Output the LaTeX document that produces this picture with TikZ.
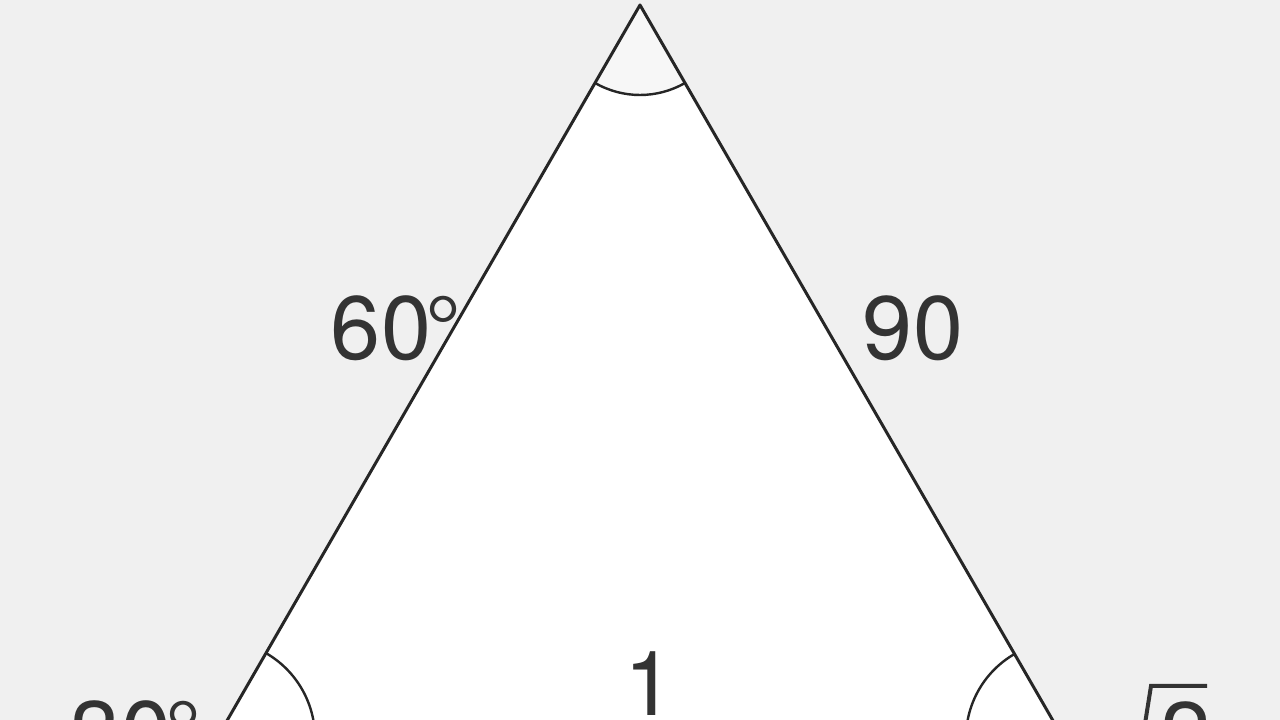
\documentclass[tikz,border=0pt]{standalone}
\usepackage{fontspec}
\setmainfont{TeX Gyre Heros}
\definecolor{bgcol}{HTML}{F0F0F0}
\definecolor{edgecol}{HTML}{262626}
\definecolor{textcol}{HTML}{333333}
\definecolor{sectorcol}{HTML}{F7F7F7}
\begin{document}
\begin{tikzpicture}[x=1pt,y=1pt,
        side/.style={line width=3pt,edgecol,line join=round},
        anglearc/.style={line width=2.4pt,edgecol},
        lbl/.style={textcol,inner sep=0pt,anchor=base,font=\fontsize{90}{100}\selectfont}]
    \useasboundingbox (0,0) rectangle (1280,720);
    \fill[bgcol] (0,0) rectangle (1280,720); % background
    \coordinate (top) at (640,715);
    \coordinate (bl) at (217,-18);
    \coordinate (br) at (1063,-18);
    \fill[white] (top)--(bl)--(br)--cycle; % triangle
    \fill[sectorcol] (top)--++(240:90) arc[start angle=240,end angle=300,radius=90]--cycle;
    \draw[anglearc] ([shift={(240:90)}]top) arc[start angle=240,end angle=300,radius=90];
    \draw[anglearc] ([shift={(0:98)}]bl) arc[start angle=0,end angle=60,radius=98];
    \draw[anglearc] ([shift={(120:97)}]br) arc[start angle=120,end angle=180,radius=97];
    \draw[side] (bl)--(top)--(br); % sides
    \node[lbl] (a60) at (396,360) {60\kern-6pt°};
    \node[lbl] (s90) at (913,360) {90};
    \node[lbl] (s1) at (650,4) {1};
    \node[lbl] (a30) at (136,-45) {30\kern-6pt°};
    \node[lbl] (sq2) at (1186,-46) {2};
    \draw[line width=4pt,textcol] (1144,-10)--(1151,34)--(1207,34); % radical sign
\end{tikzpicture}
\end{document}
